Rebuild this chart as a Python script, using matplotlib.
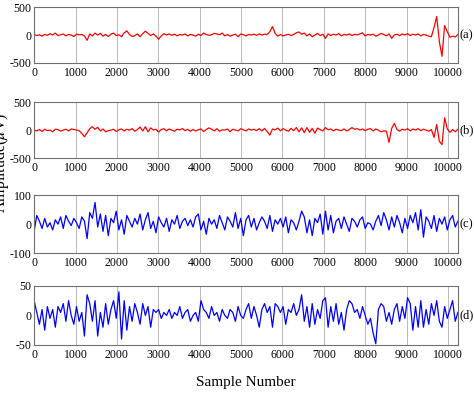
import numpy as np
import matplotlib
matplotlib.use("Agg")
import matplotlib.pyplot as plt

plt.rcParams['font.family'] = ['Liberation Serif', 'DejaVu Serif']
plt.rcParams['mathtext.fontset'] = 'stix'
plt.rcParams['axes.unicode_minus'] = False

# sample positions (every 64 samples, 0..10240)
samples = np.arange(0, 10241, 64)

sig_a = [15, -10, 5, -20, 10, -5, 25, 0, 35, -10, 5, 20, -15, 10, 0, -25, 15, 5, 10, -15,
         -95, 20, -15, 35, 0, 30, -20, 10, -25, 15, 35, -10, 5, -30, 40, 75, 10, -25, -10, 20,
         -30, 25, 70, 30, -10, 20, -20, -75, -15, 25, 0, 20, -5, 15, -15, 10, 0, 20, -15, 10,
         0, -20, 15, -10, 35, 10, -5, 5, 30, 20, 5, 35, -15, 10, -20, 0, 15, -30, 20, 5,
         -15, 10, 0, 15, -5, 20, 0, 15, 10, 60, 150, 30, -20, 10, -15, 0, 15, -10, 10, 40,
         55, 15, 35, -15, 20, -30, 0, 30, -10, 15, -60, 20, -10, 15, 0, 25, -15, 10, 0, 20,
         -10, 15, 0, 20, 40, -15, 10, 0, 15, -20, 0, 30, 10, -15, 20, -60, 0, 15, -10, 20,
         0, 25, -10, 15, 0, 20, -15, 10, 0, -20, -30, 140, 330, -120, -380, 170, 60, -40, -20, -35,
         10]

sig_b = [0, -15, 10, -25, 15, -10, 0, -30, 15, 10, -20, 0, 15, -15, 20, 10, 0, -10, -60, -120,
         -50, 25, 60, 15, 50, -15, 20, -30, -10, 0, 15, -25, 5, 20, -15, 15, 0, 25, -20, 10,
         55, -15, 60, -30, 40, 0, 15, -35, 10, 25, -15, 20, 0, -20, 15, 5, 25, -10, 15, -20,
         10, -15, 5, 20, -25, 10, 40, 15, -15, 25, -20, 5, 0, 20, -30, 15, 0, -15, 25, 5,
         -15, 20, 0, 15, -10, 25, -15, 30, -25, -90, 20, 5, 35, -15, 25, 0, -20, 30, -10, 45,
         -30, 40, -45, 45, -40, 30, -55, 35, 10, -15, 45, 5, 20, -15, 15, 0, -10, 20, -15, 10,
         45, 15, 25, 0, 20, -10, 15, 25, -15, 20, 0, -30, -15, -20, -220, 30, 120, 10, -20, 15,
         0, 25, -15, 20, 0, 25, -10, 15, 0, -20, 10, -130, 100, -200, -260, 220, 20, -40, 10, -30,
         15]

sig_c = [-25, 30, 10, -15, 20, -10, 5, -20, 15, 0, 25, -15, 30, 10, -5, 20, 5, -15, 25, 10,
         -50, 40, 20, 75, -10, 35, -25, 30, -40, 20, 5, 45, -20, 15, -35, 30, 10, -10, 20, 0,
         35, -20, 15, 40, -15, 10, -30, 25, 5, -10, 20, -25, 15, 0, 30, -15, 10, 20, -5, 15,
         -10, 25, 35, -20, 10, -35, 20, 0, 15, -15, 30, 5, -20, 25, 10, -10, 40, -15, 20, -40,
         15, 30, -10, 20, -20, 5, 25, 10, -15, 30, -25, 15, 0, 20, -10, 25, -30, 15, 5, -20,
         10, 45, 25, -30, 15, -40, 20, 5, 35, -35, 45, -20, 30, -30, 10, 20, -15, 25, 0, -25,
         20, 10, -10, 15, 25, -15, 5, 0, -20, 10, 30, -5, 40, 15, -20, 25, -10, 30, 5, -30,
         20, -15, 30, 5, 40, -20, 50, -45, 25, 10, -15, 30, -25, 20, 0, 25, -20, 15, 30, -10,
         10]

sig_d = [25, 5, -15, 10, -25, 15, -5, 10, -20, 15, 5, 20, -10, 25, 0, -15, 15, -10, 5, -35,
         35, 20, -10, 25, -35, 5, -20, 20, -15, 10, 25, -5, 40, -40, 25, -25, 15, -10, 20, 5,
         -15, 20, 0, 15, -20, 10, 5, 10, -5, 5, 0, 10, -5, 5, 0, 15, -5, 5, 10, -10,
         0, 5, -10, 25, 10, 5, -5, 15, 0, 5, -10, 10, 0, -5, 10, 5, -10, 15, 0, -5,
         10, 20, -5, 15, 0, -20, 10, 20, 5, 15, -20, 20, 15, 5, 15, -15, 10, 5, 20, 0,
         10, 35, -10, 15, -20, 20, -15, 10, -5, 25, 30, -20, 15, -10, 20, -15, 5, -25, 10, 25,
         20, 5, 10, -5, 15, 0, -15, -5, -30, -48, 10, 20, 15, -10, 5, -15, 10, 20, -10, 15,
         -5, 30, 20, -25, 15, -20, 25, -20, 10, -15, 20, 0, 25, -10, -20, 15, -5, 10, 25, -10,
         5]

signals = [sig_a, sig_b, sig_c, sig_d]
colors = ['#ff0000', '#ff0000', '#0000ff', '#0000ff']
limits = [500, 500, 100, 50]
panel_labels = ['(a)', '(b)', '(c)', '(d)']
xticks = np.arange(0, 10001, 1000)

fig = plt.figure(figsize=(4.74, 3.96), dpi=100)
# [left, bottom, width, height] in figure fraction
boxes = [[0.072, 0.841, 0.894, 0.141],
         [0.072, 0.601, 0.894, 0.141],
         [0.072, 0.361, 0.894, 0.146],
         [0.072, 0.129, 0.894, 0.149]]

for sig, col, lim, lab, box in zip(signals, colors, limits, panel_labels, boxes):
    ax = fig.add_axes(box)
    ax.plot(samples, sig, color=col, linewidth=0.9)
    ax.set_xlim(0, 10240)
    ax.set_ylim(-lim, lim)
    ax.set_yticks([-lim, 0, lim])
    ax.set_xticks(xticks)
    ax.grid(True, axis='x', color='#b0b0b0', linewidth=0.6)
    ax.tick_params(length=0, labelsize=8.5, pad=2)
    ax.tick_params(axis='x', pad=3)
    for sp in ax.spines.values():
        sp.set_color('#707070')
        sp.set_linewidth(0.8)
    ax.text(1.003, 0.5, lab, transform=ax.transAxes, ha='left', va='center', fontsize=9)

fig.text(0.003, 0.59, r'Amplitude($\mu$V)', rotation=90, ha='center', va='center', fontsize=11.5)
fig.text(0.519, 0.035, 'Sample Number', ha='center', va='center', fontsize=11)

fig.savefig('out.png', dpi=100)
